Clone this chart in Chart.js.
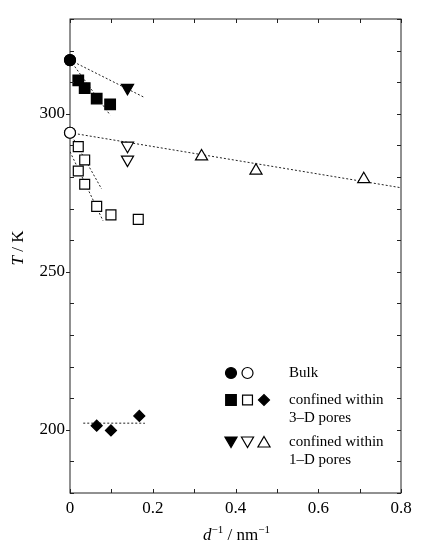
<!DOCTYPE html>
<html>
<head>
<meta charset="utf-8">
<script src="https://cdn.jsdelivr.net/npm/chart.js@4.4.0/dist/chart.umd.min.js"></script>
<style>
  html, body { margin: 0; padding: 0; background: #fff; }
  #wrap { width: 426px; height: 550px; position: relative; }
</style>
</head>
<body>
<div id="wrap"><canvas id="tChart"></canvas></div>
<script>
// ----------------------------------
// Datos
// ----------------------------------
const xTicks = [0, 0.1, 0.2, 0.3, 0.4, 0.5, 0.6, 0.7, 0.8];
const xLabels = ['0', '', '0.2', '', '0.4', '', '0.6', '', '0.8'];
const yLabels = [200, 250, 300];

// Bulk
const bulkSolidX = [0];
const bulkSolidY = [317];
const bulkOpenX = [0];
const bulkOpenY = [294];

// confined within 3-D pores
const pore3SolidX = [0.020, 0.0355, 0.0645, 0.097];
const pore3SolidY = [310.6, 308.1, 304.8, 303.0];
const pore3OpenX = [0.020, 0.0355, 0.020, 0.0355, 0.0645, 0.099, 0.165];
const pore3OpenY = [289.6, 285.4, 281.9, 277.7, 270.7, 268.0, 266.6];
const pore3DiamondX = [0.0645, 0.099, 0.1675];
const pore3DiamondY = [201.3, 199.8, 204.4];

// confined within 1-D pores
const pore1SolidX = [0.139];
const pore1SolidY = [308.2];
const pore1DownX = [0.139, 0.139];
const pore1DownY = [289.9, 285.5];
const pore1UpX = [0.318, 0.4495, 0.71];
const pore1UpY = [286.5, 282.0, 279.3];

// Líneas punteadas (extremos)
const fitSolid1X = [0, 0.181];
const fitSolid1Y = [317, 305.1];
const fitSolid3X = [0, 0.097];
const fitSolid3Y = [317, 299.6];
const fitOpen1X = [0, 0.8];
const fitOpen1Y = [294, 276.6];
const fitOpen3aX = [0, 0.0765];
const fitOpen3aY = [294, 276.2];
const fitOpen3bX = [0, 0.080];
const fitOpen3bY = [288, 266.1];
const fitDiamondX = [0.032, 0.181];
const fitDiamondY = [202.1, 202.1];

const SERIF = '"Liberation Serif", "DejaVu Serif", serif';

document.addEventListener("DOMContentLoaded", () => {
    dibujarGrafico();
});

function pares(xs, ys) {
    return xs.map((x, i) => ({ x: x, y: ys[i] }));
}

function serieMarcas(xs, ys, estilo, radio, relleno, rotacion) {
    return {
        type: 'scatter',
        data: pares(xs, ys),
        pointStyle: estilo,
        pointRadius: radio,
        pointHoverRadius: radio,
        pointRotation: rotacion || 0,
        backgroundColor: relleno,
        borderColor: '#000',
        borderWidth: 1.2,
        clip: false, // los círculos en x=0 no se recortan
        order: 1
    };
}

function serieLinea(xs, ys) {
    return {
        type: 'line',
        data: pares(xs, ys),
        showLine: true,
        borderColor: '#222',
        borderWidth: 1,
        borderDash: [2, 2],
        pointRadius: 0,
        fill: false,
        order: 2
    };
}

// Marco, marcas de los ejes, títulos y leyenda
const decoracion = {
    id: 'decoracion',
    afterDraw(chart) {
        const ctx = chart.ctx;
        const a = chart.chartArea;
        const sx = chart.scales.x;
        const sy = chart.scales.y;
        const tl = 4;

        ctx.save();
        ctx.strokeStyle = '#222';
        ctx.lineWidth = 1;
        ctx.strokeRect(a.left, a.top, a.right - a.left, a.bottom - a.top);

        ctx.beginPath();
        sx.ticks.forEach(t => {
            const px = Math.round(sx.getPixelForValue(t.value)) + 0.5;
            ctx.moveTo(px, a.bottom); ctx.lineTo(px, a.bottom - tl);
            ctx.moveTo(px, a.top); ctx.lineTo(px, a.top + tl);
        });
        sy.ticks.forEach(t => {
            const py = Math.round(sy.getPixelForValue(t.value)) + 0.5;
            ctx.moveTo(a.right, py); ctx.lineTo(a.right - tl, py);
            if (yLabels.includes(t.value)) {
                ctx.moveTo(a.left, py); ctx.lineTo(a.left - tl, py);
            } else {
                ctx.moveTo(a.left, py); ctx.lineTo(a.left + tl, py);
            }
        });
        ctx.stroke();

        // Redibujamos los círculos de Bulk encima del marco
        [[bulkOpenX, bulkOpenY, '#fff'], [bulkSolidX, bulkSolidY, '#000']].forEach(b => {
            ctx.fillStyle = b[2];
            ctx.strokeStyle = '#000';
            ctx.lineWidth = 1.2;
            Chart.helpers.drawPoint(ctx, { pointStyle: 'circle', radius: 5.5, rotation: 0, borderWidth: 1.2 },
                sx.getPixelForValue(b[0][0]), sy.getPixelForValue(b[1][0]));
        });

        ctx.fillStyle = '#000';
        ctx.textBaseline = 'alphabetic';

        // Título eje X: d^-1 / nm^-1
        const partesX = [
            { t: 'd', f: 'italic 17px ' + SERIF, dy: 0 },
            { t: '\u22121', f: '11px ' + SERIF, dy: -7 },
            { t: ' / nm', f: '17px ' + SERIF, dy: 0 },
            { t: '\u22121', f: '11px ' + SERIF, dy: -7 }
        ];
        let total = 0;
        partesX.forEach(p => { ctx.font = p.f; p.w = ctx.measureText(p.t).width; total += p.w; });
        let cx = (a.left + a.right) / 2 - total / 2 + 1;
        partesX.forEach(p => {
            ctx.font = p.f;
            ctx.textAlign = 'left';
            ctx.fillText(p.t, cx, 540 + p.dy);
            cx += p.w;
        });

        // Título eje Y: T / K
        ctx.save();
        ctx.translate(23, 248);
        ctx.rotate(-Math.PI / 2);
        const partesY = [
            { t: 'T', f: 'italic 17px ' + SERIF },
            { t: ' / K', f: '17px ' + SERIF }
        ];
        total = 0;
        partesY.forEach(p => { ctx.font = p.f; p.w = ctx.measureText(p.t).width; total += p.w; });
        cx = -total / 2;
        partesY.forEach(p => {
            ctx.font = p.f;
            ctx.textAlign = 'left';
            ctx.fillText(p.t, cx, 0);
            cx += p.w;
        });
        ctx.restore();

        // Leyenda
        const col = [a.left + 161, a.left + 177.5, a.left + 194];
        const filas = [
            { y: a.top + 354, marcas: [['circle', 5.5, '#000', 0], ['circle', 5.5, '#fff', 0]], textos: ['Bulk'] },
            { y: a.top + 381, marcas: [['rect', 7.5, '#000', 0], ['rect', 7, '#fff', 0], ['rectRot', 5.5, '#000', 0]], textos: ['confined within', '3\u2013D pores'] },
            { y: a.top + 423, marcas: [['triangle', 7, '#000', 180], ['triangle', 7, '#fff', 180], ['triangle', 7, '#fff', 0]], textos: ['confined within', '1\u2013D pores'] }
        ];
        filas.forEach(f => {
            f.marcas.forEach((m, i) => {
                ctx.fillStyle = m[2];
                ctx.strokeStyle = '#000';
                ctx.lineWidth = 1.2;
                const dy = m[0] === 'triangle' ? (m[3] ? -1.5 : 1.5) : 0;
                Chart.helpers.drawPoint(ctx, { pointStyle: m[0], radius: m[1], rotation: m[3], borderWidth: 1.2 }, col[i], f.y + dy);
            });
            ctx.fillStyle = '#000';
            ctx.font = '15px ' + SERIF;
            ctx.textAlign = 'left';
            ctx.textBaseline = 'middle';
            f.textos.forEach((t, j) => ctx.fillText(t, a.left + 219, f.y + j * 18.5));
        });
        ctx.restore();
    }
};

function dibujarGrafico() {
    const ctx = document.getElementById('tChart').getContext('2d');

    new Chart(ctx, {
        data: {
            datasets: [
                serieLinea(fitSolid1X, fitSolid1Y),
                serieLinea(fitSolid3X, fitSolid3Y),
                serieLinea(fitOpen1X, fitOpen1Y),
                serieLinea(fitOpen3aX, fitOpen3aY),
                serieLinea(fitOpen3bX, fitOpen3bY),
                serieLinea(fitDiamondX, fitDiamondY),
                serieMarcas(pore3OpenX, pore3OpenY, 'rect', 7, '#fff'),
                serieMarcas(pore3SolidX, pore3SolidY, 'rect', 7.5, '#000'),
                serieMarcas(pore3DiamondX, pore3DiamondY, 'rectRot', 5.5, '#000'),
                serieMarcas(pore1SolidX, pore1SolidY, 'triangle', 7, '#000', 180),
                serieMarcas(pore1DownX, pore1DownY, 'triangle', 7, '#fff', 180),
                serieMarcas(pore1UpX, pore1UpY, 'triangle', 7, '#fff'),
                serieMarcas(bulkOpenX, bulkOpenY, 'circle', 5.5, '#fff'),
                serieMarcas(bulkSolidX, bulkSolidY, 'circle', 5.5, '#000')
            ]
        },
        options: {
            responsive: true,
            maintainAspectRatio: false,
            animation: false,
            layout: { padding: { top: 19, right: 25, left: 0, bottom: 0 } },
            plugins: {
                legend: { display: false },
                tooltip: { enabled: false }
            },
            scales: {
                x: {
                    type: 'linear',
                    min: 0,
                    max: 0.8,
                    afterBuildTicks: s => { s.ticks = xTicks.map(v => ({ value: v })); },
                    afterFit: s => { s.height = 57; },
                    grid: { display: true, drawOnChartArea: false, drawTicks: false },
                    border: { display: false },
                    ticks: {
                        padding: 5,
                        color: '#000',
                        font: { family: SERIF, size: 17 },
                        maxRotation: 0,
                        autoSkip: false,
                        callback: (v, i) => xLabels[i]
                    }
                },
                y: {
                    type: 'linear',
                    min: 180,
                    max: 330,
                    afterFit: s => { s.width = 70; },
                    grid: { display: true, drawOnChartArea: false, drawTicks: false },
                    border: { display: false },
                    ticks: {
                        stepSize: 10,
                        padding: 5,
                        color: '#000',
                        font: { family: SERIF, size: 17 },
                        autoSkip: false,
                        callback: v => yLabels.includes(v) ? String(v) : ''
                    }
                }
            }
        },
        plugins: [decoracion]
    });
}
</script>
</body>
</html>
